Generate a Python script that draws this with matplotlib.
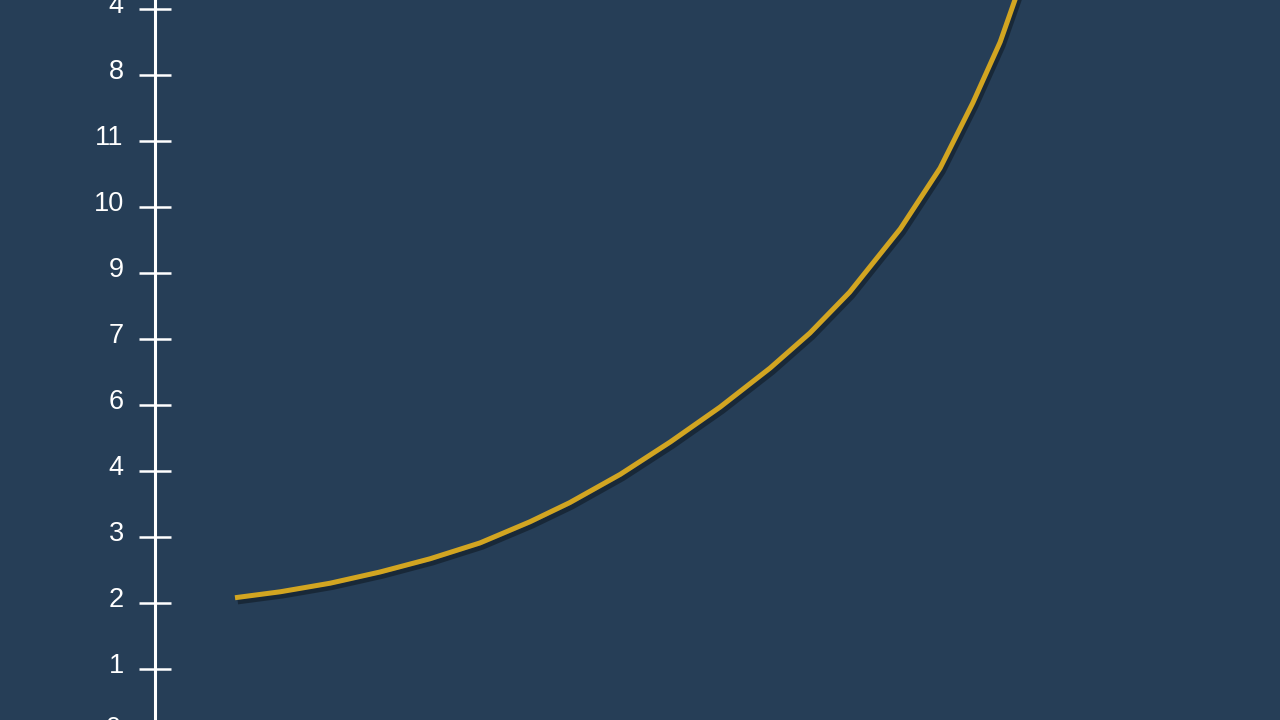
import matplotlib.pyplot as plt
import matplotlib.patheffects as pe
from matplotlib.transforms import ScaledTranslation

# curve
x_vals = [0.00, 0.58, 1.22, 1.86, 2.50, 3.14, 3.78, 4.29, 4.94, 5.58,
          6.22, 6.86, 7.37, 7.88, 8.53, 9.04, 9.46, 9.81, 10.00, 10.13]
y_vals = [2.08, 2.17, 2.30, 2.47, 2.67, 2.91, 3.23, 3.52, 3.95, 4.44,
          4.97, 5.56, 6.09, 6.71, 7.67, 8.59, 9.58, 10.50, 11.14, 11.59]

tick_pos = list(range(12))
tick_labels = ["0", "1", "2", "3", "4", "6", "7", "9", "10", "11", "8", "4"]

bg = "#263e57"

fig = plt.figure(figsize=(12.8, 7.2), dpi=100)
fig.patch.set_facecolor(bg)
ax = fig.add_axes([0, 0, 1, 1])
ax.set_facecolor(bg)

ax.plot(x_vals, y_vals, color="#d2a521", lw=3.6, solid_capstyle="butt",
        solid_joinstyle="round",
        path_effects=[pe.SimpleLineShadow(offset=(2, -3), shadow_color="black", alpha=0.35),
                      pe.Normal()])

spine_x = -80 / 78
for s in ["top", "right", "bottom"]:
    ax.spines[s].set_visible(False)
ax.spines["left"].set_position(("data", spine_x))
ax.spines["left"].set_color("white")
ax.spines["left"].set_linewidth(2.2)

ax.set_xticks([])
ax.set_yticks(tick_pos)
ax.set_yticklabels(tick_labels)
ax.tick_params(axis="y", direction="inout", length=23, width=1.8, color="white",
               labelcolor="white", labelsize=19.5, pad=11)
lift = ScaledTranslation(0, 0.06, fig.dpi_scale_trans)
for lab in ax.get_yticklabels():
    lab.set_family("Liberation Sans")
    lab.set_transform(lab.get_transform() + lift)

# limits after the ticks, so the ticks do not widen them
ax.set_xlim(-235 / 78, 1045 / 78)
ax.set_ylim(15 / 66, 735 / 66)

# the bottom label sits below the edge and only peeks in
ax.text(spine_x, tick_pos[0], tick_labels[0], color="white", fontsize=19.5,
        family="Liberation Sans", ha="right", va="center", clip_on=False,
        transform=ax.transData + ScaledTranslation(-0.34, 0.06, fig.dpi_scale_trans))

fig.savefig("out.png", dpi=100, facecolor=bg)
